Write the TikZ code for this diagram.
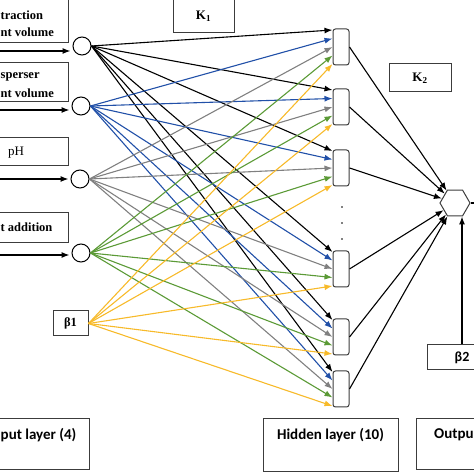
\documentclass[tikz,border=0pt]{standalone}
\usepackage{fontspec}
\setmainfont{Liberation Serif}
\newfontfamily\calibri{Carlito}
\usetikzlibrary{calc,arrows.meta,shapes.geometric}
\definecolor{nnblue}{HTML}{2150A8}
\definecolor{nngray}{HTML}{808080}
\definecolor{nngreen}{HTML}{5B9A36}
\definecolor{nnyellow}{HTML}{F7BA2A}
\definecolor{boxgray}{HTML}{3C3C3C}

\begin{document}
\begin{tikzpicture}[x=1pt, y=1pt,
        box/.style={draw=boxgray, line width=1pt, inner sep=0pt},
        txt/.style={font=\bfseries\fontsize{12.5}{14}\selectfont, inner sep=0pt, anchor=west},
        layer/.style={font=\calibri\bfseries\fontsize{15}{18}\selectfont, inner sep=0pt},
        neuron/.style={circle, draw=black, line width=1pt, minimum size=18pt, inner sep=0pt},
        hid/.style={draw=boxgray, line width=1pt, rounded corners=2.5pt, minimum width=16pt,
                    minimum height=36pt, inner sep=0pt},
        outn/.style={regular polygon, regular polygon sides=6, draw=boxgray, line width=1pt,
                     minimum size=30pt, inner sep=0pt},
        arrow/.style={-{Latex[length=8pt,width=6pt]}, line width=1.1pt}
      ]
        \useasboundingbox (0,0) rectangle (474,474);
        \clip (0,0) rectangle (474,474);

        % input boxes
        \node[box, minimum width=118pt, minimum height=45pt] (x1) at (9,453.5) {};
        \node[box, minimum width=118pt, minimum height=39pt] (x2) at (9,391.5) {};
        \node[box, minimum width=118pt, minimum height=28pt] (x3) at (9,322) {};
        \node[box, minimum width=118pt, minimum height=30pt] (x4) at (9,246) {};
        \node[txt] (t1a) at (0.5,459) {traction};
        \node[txt] (t1b) at (0.5,442) {nt volume};
        \node[txt] (t2a) at (0.5,397) {sperser};
        \node[txt] (t2b) at (0.5,381) {nt volume};
        \node[txt, font=\fontsize{13}{15}\selectfont, anchor=center] (t3) at (16,321) {pH};
        \node[txt] (t4) at (0.5,247) {t addition};

        % input neurons
        \node[neuron] (in1) at (82,428) {};
        \node[neuron] (in2) at (81,368) {};
        \node[neuron] (in3) at (80,295) {};
        \node[neuron] (in4) at (81,221) {};
        \node[box, minimum width=35pt, minimum height=25pt,
              font=\bfseries\fontsize{12.5}{14}\selectfont] (b1) at (70.5,150.5) {β1};

        \coordinate (s1) at (-5,423);
        \coordinate (s2) at (-5,364);
        \coordinate (s3) at (-5,295);
        \coordinate (s4) at (-5,219);
        \foreach \i in {1,...,4}
          \draw[arrow, shorten >=2pt] (s\i) -- (s\i -| in\i.west);

        % hidden layer
        \node[hid] (h1) at (341,427) {};
        \node[hid] (h2) at (341,367) {};
        \node[hid] (h3) at (341,306) {};
        \node[hid] (h4) at (341,205) {};
        \node[hid] (h5) at (341,137) {};
        \node[hid] (h6) at (341,85) {};
        \foreach \y in {267,251,235}
          \fill (342,\y) circle (0.8pt);

        \foreach \src/\col/\k in {in1/black/0, in2/nnblue/1, in3/nngray/2, in4/nngreen/3, b1/nnyellow/4}
          \foreach \i in {1,...,6}
            \draw[arrow, draw=\col] (\src.east) -- ($(h\i.west)+(0,17-8.5*\k)$);

        % output
        \node[outn] (out) at (455,271) {};
        \coordinate (o) at (480,271);
        \draw[line width=1.1pt] (out.east) -- (o);
        \foreach \i in {1,...,6}
          \draw[arrow] (h\i.east) -- (out);

        \node[box, minimum width=69pt, minimum height=25pt,
              font=\calibri\bfseries\fontsize{14}{16}\selectfont] (b2) at (462,116.5) {β2};
        \draw[arrow] (b2.north) -- (b2.north |- out.south);

        % weight labels
        \node[box, minimum width=61pt, minimum height=33pt,
              font=\bfseries\fontsize{13}{15}\selectfont] (k1) at (203.5,457.5) {K\textsubscript{1}};
        \node[box, minimum width=62pt, minimum height=28pt,
              font=\bfseries\fontsize{13}{15}\selectfont] (k2) at (420,396) {K\textsubscript{2}};

        % layer boxes
        \node[box, minimum width=114pt, minimum height=51pt] (il) at (32,29.5) {};
        \node[box, minimum width=135pt, minimum height=53pt] (hl) at (330.5,28.5) {};
        \node[box, minimum width=114pt, minimum height=51pt] (ol) at (473,29.5) {};
        \node[layer, anchor=west] (l1) at (0.5,39) {put layer (4)};
        \node[layer] (l2) at (330.5,39) {Hidden layer (10)};
        \node[layer, anchor=west] (l3) at (434,39) {Outpu};
      \end{tikzpicture}
\end{document}
